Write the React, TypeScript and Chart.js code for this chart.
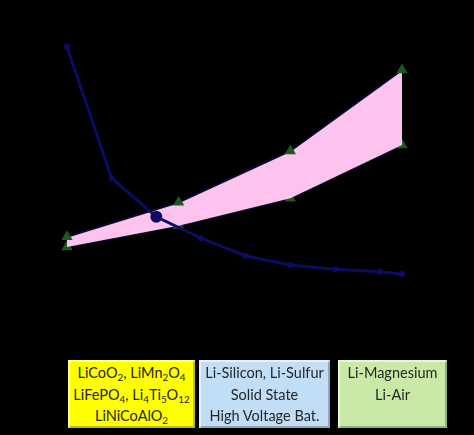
import { useEffect, useRef } from "react";
import { Chart, registerables } from "chart.js";

Chart.register(...registerables);

// x positions are in generic "years from start" units, y in relative units
const costX = [0, 4, 8, 12, 16, 20, 24, 28, 30];
const costY = [97.3, 44.7, 29.3, 20.7, 13.6, 10, 8.3, 7.3, 6.4];
const costRadius = [3, 3, 6, 3, 3, 3, 3, 3, 3];

const bandX = [0, 10, 20, 30];
const bandUpper = [21.3, 35.1, 55.6, 88];
const bandLower = [17.2, 25.7, 36.7, 58];

const sub = (s: string) => (
  <sub style={{ fontSize: "0.68em", verticalAlign: "-0.3em", lineHeight: 0 }}>{s}</sub>
);

const boxes = [
  {
    left: 68,
    width: 127,
    bg: "#ffff00",
    lines: [
      <>LiCoO{sub("2")}, LiMn{sub("2")}O{sub("4")}</>,
      <>LiFePO{sub("4")}, Li{sub("4")}Ti{sub("5")}O{sub("12")}</>,
      <>LiNiCoAlO{sub("2")}</>,
    ],
  },
  {
    left: 199,
    width: 131,
    bg: "#c2def6",
    lines: [<>Li-Silicon, Li-Sulfur</>, <>Solid State</>, <>High Voltage Bat.</>],
  },
  {
    left: 338,
    width: 109,
    bg: "#c9eaa6",
    lines: [<>Li-Magnesium</>, <>Li-Air</>],
  },
];

function BatteryChart() {
  const chartRef = useRef<HTMLCanvasElement>(null);
  const chartInstance = useRef<Chart | null>(null);

  useEffect(() => {
    if (!chartRef.current) return;
    if (chartInstance.current) chartInstance.current.destroy();
    const ctx = chartRef.current.getContext("2d");
    if (!ctx) return;

    chartInstance.current = new Chart(ctx, {
      type: "line",
      data: {
        datasets: [
          {
            label: "Cost",
            data: costX.map((x, i) => ({ x, y: costY[i] })),
            borderColor: "#0c0c62",
            backgroundColor: "#0c0c62",
            borderWidth: 3,
            pointRadius: costRadius,
            pointBorderWidth: 0,
            clip: false,
          },
          {
            label: "Upper",
            data: bandX.map((x, i) => ({ x, y: bandUpper[i] })),
            borderColor: "#0a0a30",
            borderWidth: 2,
            backgroundColor: "#fcc3ef",
            fill: "+1",
            pointStyle: "triangle",
            pointRadius: 4.5,
            pointBackgroundColor: "#1e5a1e",
            pointBorderColor: "#1e5a1e",
            clip: false,
          },
          {
            label: "Lower",
            data: bandX.map((x, i) => ({ x, y: bandLower[i] })),
            borderColor: "#0a0a30",
            borderWidth: 2,
            fill: false,
            pointStyle: "triangle",
            pointRadius: 4.5,
            pointBackgroundColor: "#1e5a1e",
            pointBorderColor: "#1e5a1e",
            clip: false,
          },
        ],
      },
      options: {
        animation: false,
        responsive: false,
        layout: { padding: { left: 67, right: 72, top: 40, bottom: 145 } },
        plugins: { legend: { display: false }, tooltip: { enabled: false } },
        scales: {
          x: { type: "linear", min: 0, max: 30, display: false },
          y: { min: 0, max: 100, display: false },
        },
      },
    });

    return () => {
      if (chartInstance.current) {
        chartInstance.current.destroy();
        chartInstance.current = null;
      }
    };
  }, []);

  return (
    <div style={{ position: "relative", width: 474, height: 435, background: "#000" }}>
      <canvas ref={chartRef} width={474} height={435} style={{ position: "absolute", left: 0, top: 0 }} />
      {boxes.map((b, i) => (
        <div
          key={i}
          style={{
            position: "absolute",
            left: b.left,
            top: 360,
            width: b.width,
            height: 68,
            boxSizing: "border-box",
            background: b.bg,
            boxShadow:
              "inset 2px 2px 0 rgba(255,255,255,0.55), inset -2px -2px 0 rgba(0,0,0,0.25)",
            color: "#262626",
            fontFamily: "Lato, 'Open Sans', sans-serif",
            fontSize: 14.5,
            lineHeight: "21.5px",
            textAlign: "center",
            paddingTop: 2,
            whiteSpace: "nowrap",
          }}
        >
          {b.lines.map((l, j) => (
            <div key={j}>{l}</div>
          ))}
        </div>
      ))}
    </div>
  );
}

export default function App() {
  useEffect(() => {
    document.body.style.margin = "0";
    document.body.style.background = "#000";
  }, []);
  return <BatteryChart />;
}
